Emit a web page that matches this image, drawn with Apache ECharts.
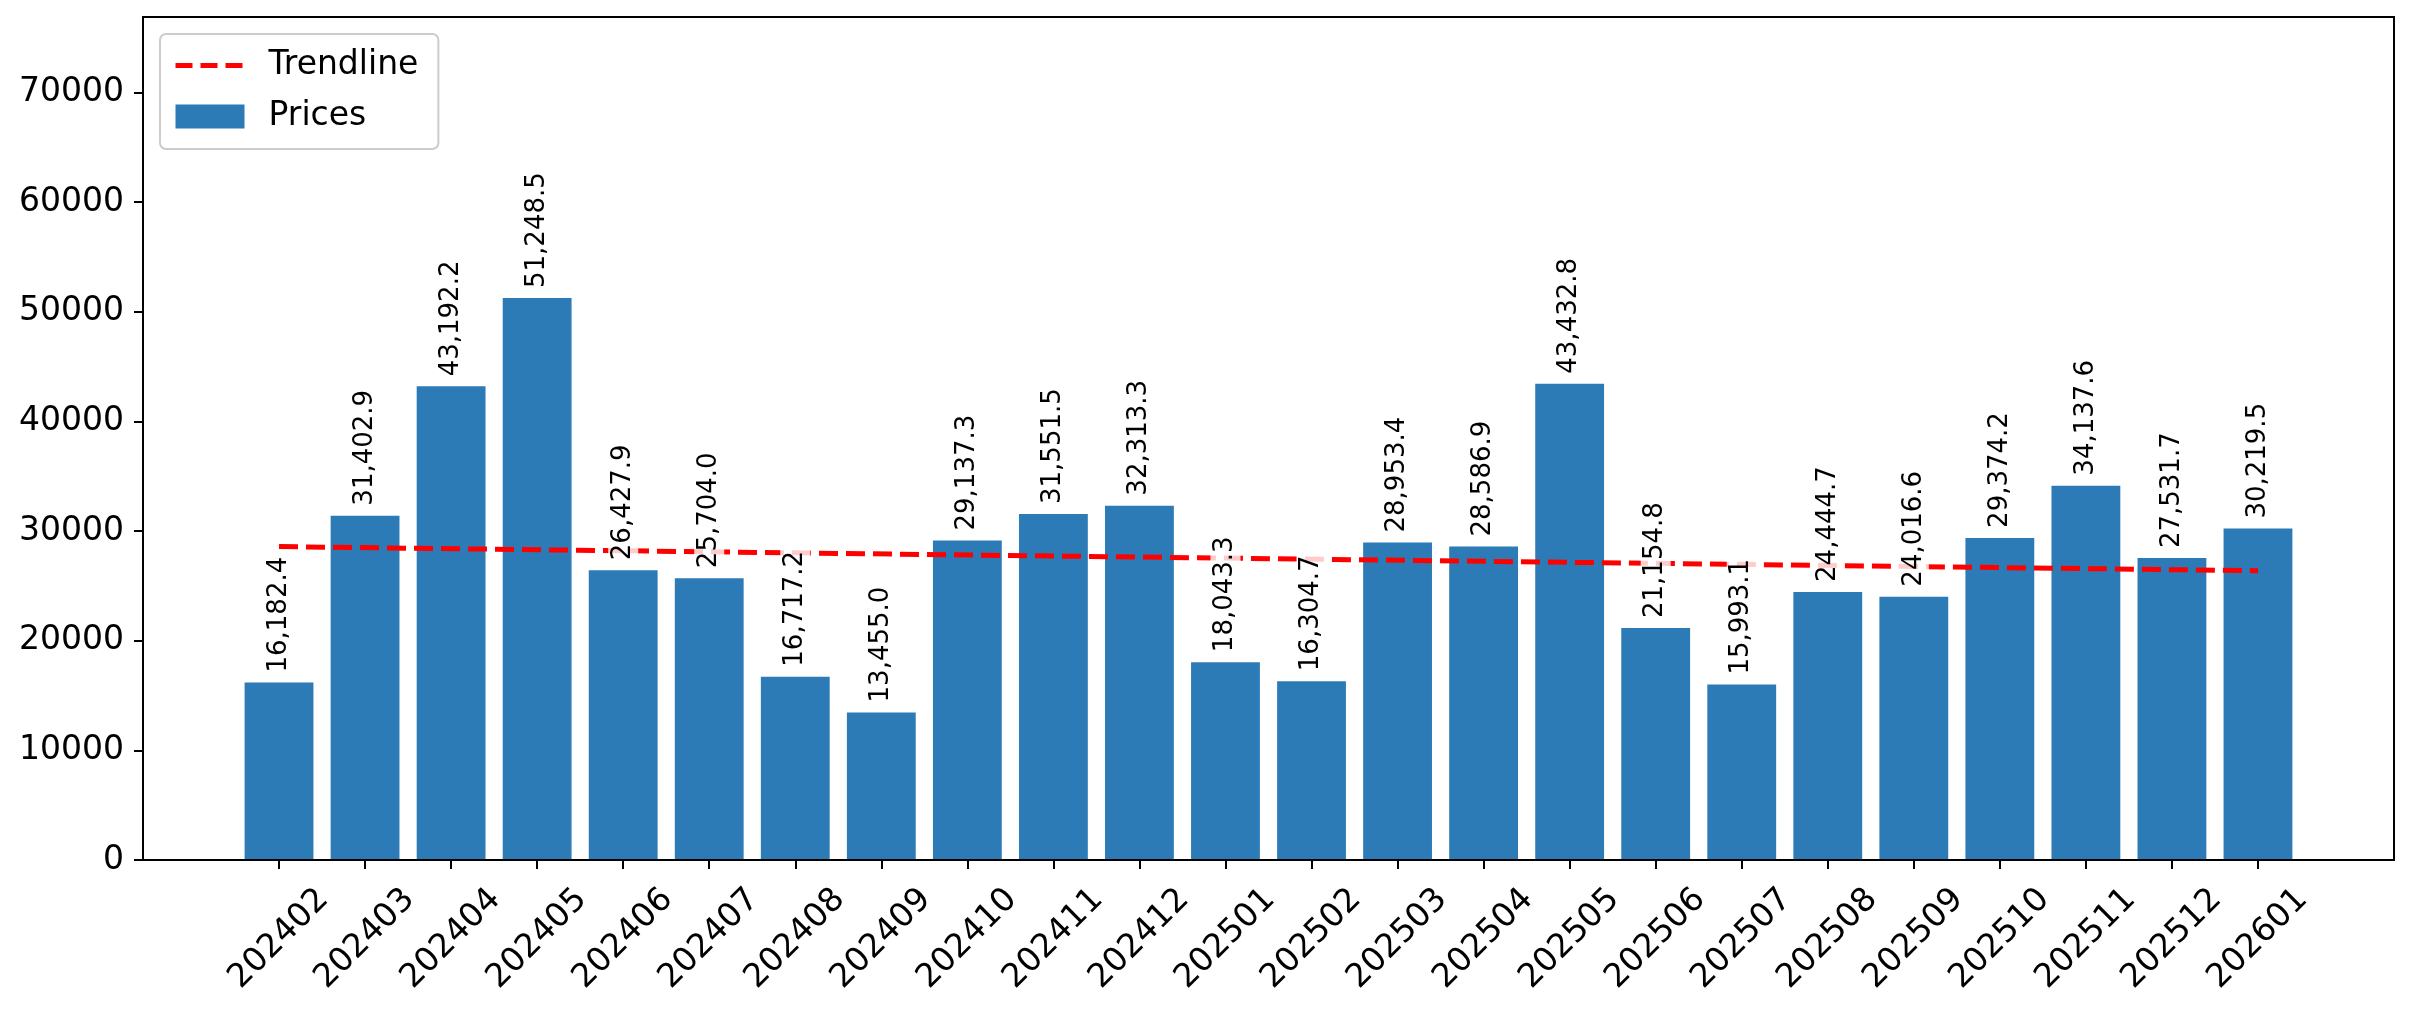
<!DOCTYPE html>
<html>
<head>
<meta charset="utf-8">
<script src="https://cdn.jsdelivr.net/npm/echarts@6/dist/echarts.min.js"></script>
<style>
    html, body { margin: 0; padding: 0; background: #fff; }
    #chart { width: 2411px; height: 1011px; }
</style>
</head>
<body>
<div id="chart"></div>
<script>
var months = ['202402', '202403', '202404', '202405', '202406', '202407', '202408', '202409',
    '202410', '202411', '202412', '202501', '202502', '202503', '202504', '202505',
    '202506', '202507', '202508', '202509', '202510', '202511', '202512', '202601'];
var prices = [16182.4, 31402.9, 43192.2, 51248.5, 26427.9, 25704.0, 16717.2, 13455.0,
    29137.3, 31551.5, 32313.3, 18043.3, 16304.7, 28953.4, 28586.9, 43432.8,
    21154.8, 15993.1, 24444.7, 24016.6, 29374.2, 34137.6, 27531.7, 30219.5];
// trendline end points
var trendStart = 28580;
var trendEnd = 26380;
var yTicks = [0, 10000, 20000, 30000, 40000, 50000, 60000, 70000];
var yMax = 76873;

var font = 'DejaVu Sans';
var barColor = '#2C7BB6';

function fmt(v) {
    return v.toLocaleString('en-US', {minimumFractionDigits: 1, maximumFractionDigits: 1});
}

var myChart = echarts.init(document.getElementById('chart'), null, {renderer: 'canvas'});
myChart.setOption({
    animation: false,
    textStyle: {fontFamily: font, color: '#000'},
    grid: [
        // bars
        {left: 236, right: 110, top: 17, bottom: 151},
        // frame + y axis
        {left: 143, right: 17, top: 17, bottom: 151, show: true, z: 5,
            backgroundColor: 'transparent', borderColor: '#000', borderWidth: 2}
    ],
    legend: {
        orient: 'vertical',
        left: 160,
        top: 34,
        z: 10,
        padding: [15, 20, 16, 13],
        itemWidth: 69,
        itemHeight: 24,
        itemGap: 18,
        backgroundColor: 'rgba(255,255,255,0.8)',
        borderColor: '#cccccc',
        borderWidth: 2,
        borderRadius: 6,
        textStyle: {fontFamily: font, fontSize: 33, color: '#000', padding: [0, 0, 0, 19]},
        data: [
            {name: 'Trendline', itemStyle: {color: 'rgba(0,0,0,0)', borderWidth: 0},
                lineStyle: {color: '#ff0000', width: 5, type: [17, 8]}},
            {name: 'Prices', icon: 'rect'}
        ]
    },
    xAxis: [
        {
            type: 'category',
            gridIndex: 0,
            data: months,
            boundaryGap: true,
            axisLine: {show: false},
            axisTick: {show: true, alignWithLabel: true, length: 9, lineStyle: {color: '#000', width: 2}},
            axisLabel: {
                rotate: 45,
                interval: 0,
                align: 'center',
                verticalAlign: 'middle',
                margin: 79,
                fontFamily: font,
                fontSize: 33,
                color: '#000'
            }
        },
        {type: 'value', gridIndex: 1, show: false, min: 0, max: 1}
    ],
    yAxis: [
        {type: 'value', gridIndex: 0, min: 0, max: yMax, show: false},
        {
            type: 'value',
            gridIndex: 1,
            min: 0,
            max: yMax,
            interval: 10000,
            splitLine: {show: false},
            axisLine: {show: false},
            axisTick: {show: true, length: 9, customValues: yTicks, lineStyle: {color: '#000', width: 2}},
            axisLabel: {
                customValues: yTicks,
                margin: 19,
                fontFamily: font,
                fontSize: 33,
                color: '#000',
                formatter: function (v) { return String(v); }
            }
        }
    ],
    series: [
        {
            name: 'Prices',
            type: 'bar',
            xAxisIndex: 0,
            yAxisIndex: 0,
            data: prices,
            barWidth: '80%',
            z: 2,
            itemStyle: {color: barColor}
        },
        {
            name: 'Trendline',
            type: 'line',
            xAxisIndex: 0,
            yAxisIndex: 0,
            data: [[months[0], trendStart], [months[months.length - 1], trendEnd]],
            symbol: 'none',
            z: 3,
            itemStyle: {color: '#ff0000'},
            lineStyle: {color: '#ff0000', width: 5, type: [19, 8]}
        },
        {
            // labels only, drawn on top of the trendline
            name: 'labels',
            type: 'bar',
            xAxisIndex: 0,
            yAxisIndex: 0,
            data: prices,
            barWidth: '80%',
            barGap: '-100%',
            z: 4,
            silent: true,
            itemStyle: {color: 'rgba(0,0,0,0)'},
            label: {
                show: true,
                position: 'top',
                rotate: 90,
                align: 'left',
                verticalAlign: 'middle',
                distance: 3,
                padding: [2, 7, 2, 7],
                backgroundColor: 'rgba(255,255,255,0.8)',
                fontFamily: font,
                fontSize: 26,
                color: '#000',
                formatter: function (p) { return fmt(p.value); }
            }
        }
    ]
});
</script>
</body>
</html>
